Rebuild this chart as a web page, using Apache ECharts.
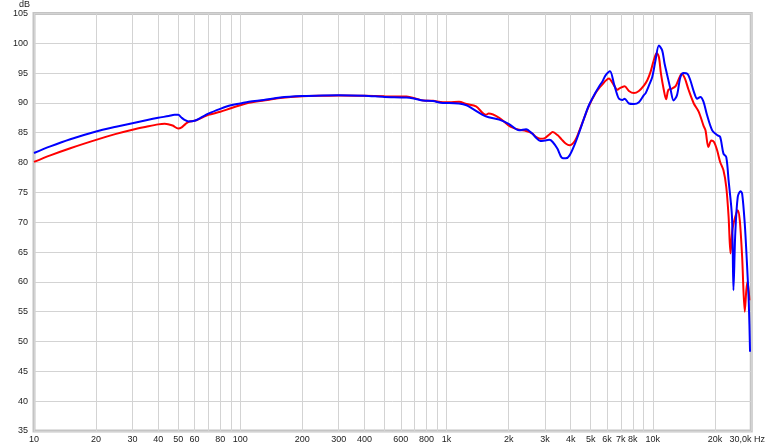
<!DOCTYPE html>
<html>
<head>
<meta charset="utf-8">
<script src="https://cdn.jsdelivr.net/npm/echarts@6/dist/echarts.min.js"></script>
<style>html,body{margin:0;padding:0;background:#fff}#c{width:768px;height:448px}</style>
</head>
<body>
<div id="c"></div>
<script>
// ---- data (Hz, dB) ----
var freqRed = [10,12,15,20,25,30,35,40,43,47,50,52,54,56,60,65,70,80,90,100,110,130,156,200,250,300,400,500,640,700,770,860,960,1030,1150,1250,1390,1550,1600,1800,2040,2250,2430,2600,2710,2850,3000,3150,3270,3450,3620,3780,3950,4200,4400,4640,4900,5270,5500,5700,5900,6120,6490,6730,6860,7300,7660,8100,8560,9050,9400,9750,10100,10450,10700,10950,11300,11600,11900,12400,12900,13400,13800,14300,14900,15800,16700,17600,18000,18600,19200,19800,20500,21200,22000,22700,23300,23800,24300,25100,25800,26400,27100,27900,28400,28800,29400];
var dbRed = [80.1,81.2,82.4,83.8,84.8,85.5,86.0,86.4,86.5,86.2,85.7,85.9,86.4,86.8,87.0,87.5,88.0,88.5,89.1,89.6,90.0,90.4,90.8,91.1,91.2,91.25,91.2,91.1,91.05,90.8,90.4,90.35,90.1,90.1,90.2,89.8,89.4,88.0,88.2,87.5,86.0,85.5,85.3,84.9,84.3,84.0,84.1,84.7,85.1,84.6,83.85,83.2,82.9,83.7,85.3,87.4,89.5,91.6,92.5,93.1,93.7,94.1,92.9,92.2,92.4,92.8,92.0,91.65,92.0,92.9,93.8,95.2,97.1,98.35,97.7,94.9,92.2,90.6,92.2,92.4,92.8,94.1,94.9,94.1,92.2,89.9,88.5,86.2,85.4,82.6,83.7,83.45,82.05,80.1,78.7,75.9,70.9,64.75,68.7,70.9,72.0,70.3,64.2,55.0,58.6,60.0,56.9];

var freqBlue = [10,12,15,20,25,30,35,40,45,48,50,52,54,56,60,65,70,80,90,100,110,130,156,200,250,300,400,500,640,700,770,860,960,1030,1150,1250,1340,1550,1800,2000,2250,2430,2600,2710,2850,3000,3150,3270,3450,3620,3780,3950,4200,4400,4640,4900,5270,5500,5700,5900,6200,6490,6730,6860,7120,7300,7660,8100,8560,9050,9220,9570,9930,10300,10700,11100,11400,11700,12200,12600,13100,13600,14100,14700,15200,15800,16400,17000,17600,18300,19400,20500,21200,22000,22700,23300,24200,24600,25100,25800,26600,27100,27900,28600,29200,29600];
var dbBlue = [81.6,82.7,83.9,85.2,86.0,86.6,87.1,87.5,87.8,88.0,88.0,87.5,87.1,86.9,87.0,87.6,88.2,89.0,89.6,89.9,90.2,90.5,90.9,91.15,91.25,91.27,91.2,91.0,90.9,90.7,90.4,90.3,90.0,90.0,89.9,89.6,89.0,87.75,87.2,86.5,85.4,85.6,84.85,84.2,83.6,83.7,83.8,83.45,82.3,80.8,80.7,81.2,83.2,85.1,87.4,89.6,91.7,92.8,93.6,94.6,95.3,93.1,91.3,90.7,90.5,90.7,89.9,89.8,90.1,91.3,91.6,92.9,94.3,97.1,99.6,98.8,96.6,94.9,92.2,90.4,91.3,94.3,95.0,94.9,93.8,91.9,90.7,91.0,90.2,88.0,85.4,84.6,84.3,81.5,80.9,77.0,70.9,58.6,68.1,74.2,75.2,74.8,69.8,63.1,56.4,48.3];

var gridFreqs = [10,20,30,40,50,60,70,80,90,100,200,300,400,500,600,700,800,900,1000,2000,3000,4000,5000,6000,7000,8000,9000,10000,20000,30000];
var labelFreqs = [10,20,30,40,50,60,80,100,200,300,400,600,800,1000,2000,3000,4000,5000,6000,7000,8000,10000,20000,30000];
var labelTexts = ['10','20','30','40','50','60','80','100','200','300','400','600','800','1k','2k','3k','4k','5k','6k','7k','8k','10k','20k','30,0k Hz'];
var fMin = 10, fMax = 30000;
var yMin = 35, yMax = 105, yStep = 5;

function toPts(fs, ds){ return fs.map(function(f,i){ return [Math.log10(f), ds[i]]; }); }
var lx = function(f){ return Math.log10(f); };

var chart = echarts.init(document.getElementById('c'), null, {renderer:'canvas'});
var txt = {fontFamily:'Liberation Sans, Arial, sans-serif', fontSize:9, color:'#222'};
chart.setOption({
  animation:false,
  backgroundColor:'#fff',
  grid:{left:34, right:15, top:13, bottom:17, show:true, borderColor:'#c4c4c4', borderWidth:3, backgroundColor:'transparent'},
  xAxis:{
    type:'value', min:lx(fMin), max:lx(fMax),
    axisLine:{show:false},
    axisTick:{show:false, customValues: gridFreqs.map(lx)},
    splitLine:{show:true, lineStyle:{color:'#d3d3d3', width:1}},
    axisLabel:Object.assign({}, txt, {
      margin:4,
      customValues: labelFreqs.map(lx),
      formatter:function(v){
        var f = Math.round(Math.pow(10, v));
        var i = labelFreqs.indexOf(f);
        if (i === labelFreqs.length-1) return '{last|'+labelTexts[i]+'}';
        return i >= 0 ? labelTexts[i] : '';
      },
      rich:{last:{fontFamily:'Liberation Sans, Arial, sans-serif', fontSize:9, color:'#222', padding:[0,8,0,0]}}
    })
  },
  yAxis:{
    type:'value', min:yMin, max:yMax, interval:yStep,
    name:'dB', nameLocation:'end', nameGap:4,
    nameTextStyle:Object.assign({}, txt, {align:'right', verticalAlign:'bottom', padding:[0,4,0,0]}),
    axisLine:{show:false}, axisTick:{show:false},
    splitLine:{show:true, lineStyle:{color:'#d3d3d3', width:1}},
    axisLabel:Object.assign({}, txt, {margin:6})
  },
  series:[
    {type:'line', data:toPts(freqRed, dbRed), showSymbol:false, smooth:0.3, lineStyle:{color:'#ff0000', width:2}, itemStyle:{color:'#ff0000'}, z:3},
    {type:'line', data:toPts(freqBlue, dbBlue), showSymbol:false, smooth:0.3, lineStyle:{color:'#0000ff', width:2}, itemStyle:{color:'#0000ff'}, z:4}
  ]
});
</script>
</body>
</html>
